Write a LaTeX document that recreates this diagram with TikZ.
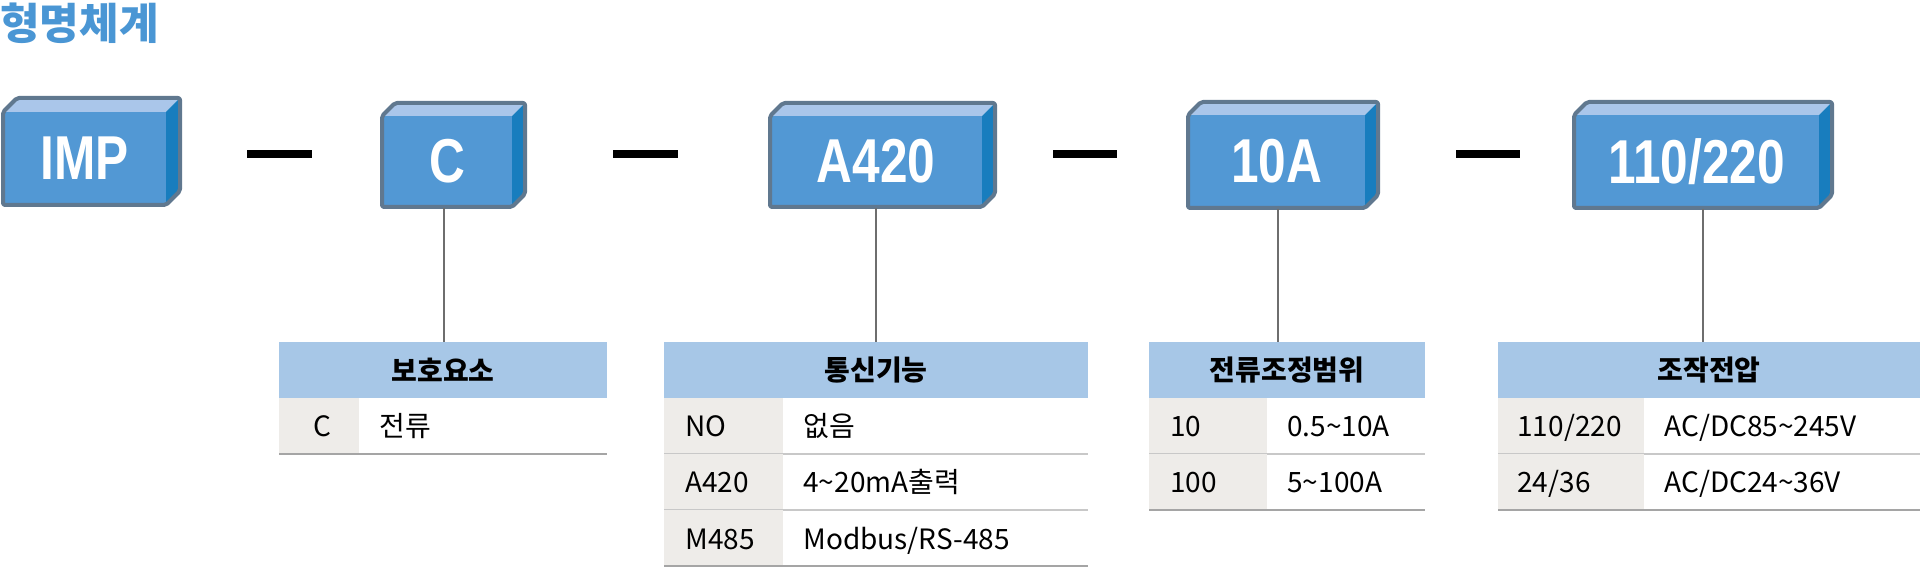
\documentclass[tikz,border=0pt]{standalone}
\usepackage{fontspec}
\usepackage{tikz}
\usetikzlibrary{calc}
\setmainfont{Liberation Sans}
\newfontfamily\krfont{Noto Sans CJK KR}
\newfontfamily\boxfont[FakeStretch=0.8]{Liberation Sans}

\definecolor{facefront}{RGB}{82,152,212}
\definecolor{facetop}{RGB}{170,198,234}
\definecolor{faceside}{RGB}{24,125,190}
\definecolor{boxrim}{RGB}{96,120,143}
\definecolor{headblue}{RGB}{167,199,231}
\definecolor{keygray}{RGB}{238,236,233}
\definecolor{rulegray}{RGB}{200,200,200}
\definecolor{footgray}{RGB}{165,165,165}
\definecolor{stemgray}{RGB}{110,110,110}
\definecolor{titleblue}{RGB}{74,150,212}

\tikzset{
  boxlabel/.style={text=white,font=\boxfont\bfseries\fontsize{31}{31}\selectfont,inner sep=0pt},
  boxedge/.style={draw=boxrim,line width=2pt,line join=round,rounded corners=1pt},
  dashbar/.style={fill=black},
  stem/.style={draw=stemgray,line width=0.7pt},
  headtext/.style={font=\krfont\bfseries\fontsize{14}{14}\selectfont,inner sep=0pt},
  celltext/.style={font=\krfont\fontsize{14}{14}\selectfont,inner sep=0pt,anchor=base west},
  rowrule/.style={draw=rulegray,line width=0.6pt},
  tablefoot/.style={draw=footgray,line width=1pt}
}

% box with top and side faces: name, left, right, top, bottom, depth, text
\newcommand{\modelbox}[7]{%
  \fill[facefront] (#2,#4+#6) rectangle (#3-#6,#5);
  \fill[facetop] (#2,#4+#6) -- (#2+#6,#4) -- (#3,#4) -- (#3-#6,#4+#6) -- cycle;
  \fill[faceside] (#3-#6,#4+#6) -- (#3,#4) -- (#3,#5-#6) -- (#3-#6,#5) -- cycle;
  \draw[boxedge] (#2,#4+#6) -- (#2+#6,#4) -- (#3,#4) -- (#3,#5-#6) -- (#3-#6,#5) -- (#2,#5) -- cycle;
  \node[boxlabel] (#1) at ({(#2+#3-#6)/2},{(#4+#6+#5)/2}) {#7};
}
% table row: name, left, key column right, right, row top, key pad, key, value
\newcommand{\specrow}[8]{%
  \fill[keygray] (#2,#5) rectangle (#3,#5+56);
  \node[celltext] (#1k) at (#2+#6,#5+39) {#7};
  \node[celltext] (#1v) at (#3+20,#5+39) {#8};
  \draw[rowrule] (#2,#5+56) -- (#4,#5+56);
}

\begin{document}
\begin{tikzpicture}[x=0.5pt,y=-0.5pt]
  \useasboundingbox (0,0) rectangle (1920,576);

  \node[anchor=north west,inner sep=0pt,text=titleblue,font=\krfont\bfseries\fontsize{21.5}{21.5}\selectfont] (title) at (0,3) {형명체계};

  % model code boxes
  \modelbox{imp}{3}{180}{98}{205}{14}{IMP}
  \modelbox{prot}{382}{525}{103}{207}{13}{C}
  \modelbox{comm}{770}{995}{103}{207}{13}{A420}
  \modelbox{amps}{1188}{1378}{102}{208}{13}{10A}
  \modelbox{volt}{1574}{1832}{102}{208}{13}{110/220}

  % separators
  \fill[dashbar] (247,150) rectangle (312,158);
  \fill[dashbar] (613,150) rectangle (678,158);
  \fill[dashbar] (1053,150) rectangle (1117,158);
  \fill[dashbar] (1456,150) rectangle (1520,158);

  % tables
  \fill[headblue] (279,342) rectangle (607,398);
  \node[headtext] (hdrprot) at (443,370) {보호요소};
  \specrow{protC}{279}{359}{607}{398}{34}{C}{전류}
  \draw[tablefoot] (279,454) -- (607,454);

  \fill[headblue] (664,342) rectangle (1088,398);
  \node[headtext] (hdrcomm) at (876,370) {통신기능};
  \specrow{commNO}{664}{783}{1088}{398}{21}{NO}{없음}
  \specrow{commA}{664}{783}{1088}{454}{21}{A420}{4\char"7E 20mA출력}
  \specrow{commM}{664}{783}{1088}{510}{21}{M485}{Modbus/RS-485}
  \draw[tablefoot] (664,566) -- (1088,566);

  \fill[headblue] (1149,342) rectangle (1425,398);
  \node[headtext] (hdramps) at (1287,370) {전류조정범위};
  \specrow{amps10}{1149}{1267}{1425}{398}{21}{10}{0.5\char"7E 10A}
  \specrow{amps100}{1149}{1267}{1425}{454}{21}{100}{5\char"7E 100A}
  \draw[tablefoot] (1149,510) -- (1425,510);

  \fill[headblue] (1498,342) rectangle (1920,398);
  \node[headtext] (hdrvolt) at (1709,370) {조작전압};
  \specrow{volt110}{1498}{1644}{1920}{398}{19}{110/220}{AC/DC85\char"7E 245V}
  \specrow{volt24}{1498}{1644}{1920}{454}{19}{24/36}{AC/DC24\char"7E 36V}
  \draw[tablefoot] (1498,510) -- (1920,510);

  % stems from boxes to tables
  \coordinate (sprot) at (444,208);
  \coordinate (scomm) at (876,208);
  \coordinate (samps) at (1278,209);
  \coordinate (svolt) at (1703,209);
  \draw[stem] (sprot) -- (sprot |- 0,342);
  \draw[stem] (scomm) -- (scomm |- 0,342);
  \draw[stem] (samps) -- (samps |- 0,342);
  \draw[stem] (svolt) -- (svolt |- 0,342);
\end{tikzpicture}
\end{document}
